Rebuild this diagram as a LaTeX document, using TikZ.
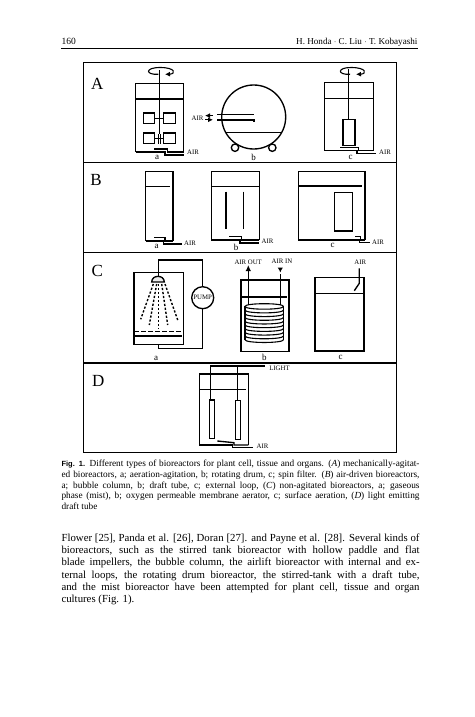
\documentclass[tikz,border=0pt]{standalone}
\usepackage{fontspec}
\setmainfont{Liberation Serif}
\setsansfont{Liberation Sans}
\usepackage{tikz}
\usetikzlibrary{arrows.meta}
\newcommand{\fullline}[1]{\makebox[358pt][s]{#1}}

\begin{document}
\begin{tikzpicture}[
  x=1pt, y=-1pt,
  line width=1.1pt,
  wall/.style={line width=1.35pt},
  frm/.style={line width=1.5pt},
  ar/.style={-{Latex[length=5pt,width=5pt]}},
  spray/.style={line width=1.4pt, dash pattern=on 2.2pt off 1.8pt},
  partlab/.style={font=\fontsize{17}{17}\selectfont, inner sep=0pt},
  lab/.style={font=\fontsize{9}{9}\selectfont, inner sep=0pt},
  tiny/.style={font=\fontsize{6.8}{6.8}\selectfont, inner sep=0pt},
  para/.style={anchor=north west, inner sep=0pt, align=left}
]
\useasboundingbox (0,0) rectangle (474,717);

% page head
\node[anchor=base west, inner sep=0pt, font=\fontsize{9.5}{9.5}\selectfont] (page) at (61,45) {160};
\node[anchor=base east, inner sep=0pt, font=\fontsize{9.1}{9.1}\selectfont] (auth) at (418,45) {H. Honda $\cdot$ C. Liu $\cdot$ T. Kobayashi};
\draw[line width=0.9pt] (61,48.3) -- (418,48.3);

% frame
\draw[frm] (83.4,62.3) rectangle (396.3,452.7);
\draw[frm] (83.4,162.7) -- (396.3,162.7);
\draw[frm] (83.4,252.7) -- (396.3,252.7);
\draw[frm] (83.4,362.8) -- (396.3,362.8);

\node[partlab] (A) at (97.3,84) {A};
\node[partlab] (B) at (96,180) {B};
\node[partlab] (C) at (97.3,270.7) {C};
\node[partlab] (D) at (98.3,380.7) {D};

% A a
\draw[wall] (135.7,152) -- (135.7,83.3) -- (183.7,83.3) -- (183.7,152);
\draw[wall] (135.7,99) -- (183.7,99);
\draw[wall] (159.3,70) -- (159.3,134);
\draw[wall] (143.7,113) rectangle (154.7,123.7);
\draw[wall] (163.7,113) rectangle (175.3,123.7);
\draw[wall] (143.7,133) rectangle (154.7,143.7);
\draw[wall] (163.7,133) rectangle (175.3,143.7);
\draw[wall] (154.7,118.3) -- (163.7,118.3);
\draw[wall] (154.7,138.3) -- (163.7,138.3);
\draw (158.2,134) -- (158.2,143.5) (160.5,134) -- (160.5,143.5);
\draw[ar] (158.3,74.3) .. controls (145,75) and (145,67.5) .. (160,67.5) .. controls (176,67.5) and (176,74) .. (165,74.3);
\draw[wall] (154.3,149) -- (167.7,149) -- (167.7,152) -- (183.7,152);
\draw[wall] (135.7,152) -- (165,152) -- (165,155) -- (183.7,155);
\node[lab] (aa) at (157,157.7) {a};
\node[tiny] (aair) at (193,152.7) {AIR};

% A b
\draw[wall] (253.7,117) circle[radius=32pt];
\draw[wall] (226,132.7) -- (282,132.7);
\draw[wall] (235,147.7) circle[radius=3.7pt];
\draw[wall] (272.3,147.7) circle[radius=3.7pt];
\draw[wall] (217,114.3) -- (254,114.3);
\draw[wall] (217,120) -- (254,120) -- (254,122);
\draw[ar] (213,115.6) -- (205,115.6);
\draw[ar] (205,119.8) -- (213,119.8);
\node[tiny] (bair) at (197.5,118.7) {AIR};
\node[lab] (ab) at (253.7,157.7) {b};

% A c
\draw[wall] (324.3,150.7) -- (324.3,82.3) -- (373.3,82.3) -- (373.3,150.7);
\draw[wall] (324.3,98.3) -- (373.3,98.3);
\draw[wall] (348.3,69.3) -- (348.3,119.3);
\draw[wall] (343,119.3) rectangle (355,145.7);
\draw[ar] (350,74.3) .. controls (337,75) and (337,67.5) .. (351,67.5) .. controls (367,67.5) and (367,74) .. (356,74.3);
\draw[wall] (340,147.7) -- (358.3,147.7) -- (358.3,150.7) -- (373.3,150.7);
\draw[wall] (324.3,150.7) -- (357,150.7) -- (357,153.7) -- (376,153.7);
\node[lab] (ac) at (350.7,157.7) {c};
\node[tiny] (cair) at (385,152.7) {AIR};

% B a
\draw[wall] (145.7,241) -- (145.7,171.7) -- (173,171.7) -- (173,241);
\draw[wall] (145,186.7) -- (170,186.7);
\draw[wall] (154.3,237.7) -- (165,237.7) -- (165,241) -- (173,241);
\draw[wall] (145.7,241) -- (163.7,241) -- (163.7,244) -- (181.7,244);
\node[lab] (ba) at (156.7,246) {a};
\node[tiny] (dair) at (190,243) {AIR};

% B b
\draw[wall] (211.3,240) -- (211.3,171.7) -- (259.3,171.7) -- (259.3,240);
\draw[wall] (211.3,186.7) -- (259.3,186.7);
\draw[wall] (226,191.7) -- (226,229);
\draw[wall] (243.7,191.7) -- (243.7,229);
\draw[wall] (229.3,236.7) -- (241.3,236.7) -- (241.3,240) -- (259.3,240);
\draw[wall] (211.3,240) -- (240,240) -- (240,243) -- (259.3,243);
\node[lab] (bb) at (236,247.3) {b};
\node[tiny] (eair) at (267.5,241.7) {AIR};

% B c
\draw[wall] (298.3,240) -- (298.3,171.7) -- (365,171.7) -- (365,240);
\draw[wall] (298.3,186) -- (361.7,186);
\draw[wall] (334.7,192.7) rectangle (352.7,231);
\draw[wall] (355,236.7) -- (360.7,236.7) -- (360.7,240) -- (365,240);
\draw[wall] (298.3,240) -- (359.3,240) -- (359.3,242.7) -- (370,242.7);
\node[lab] (bc) at (332.7,245) {c};
\node[tiny] (fair) at (378,242.7) {AIR};

% C a
\draw[wall] (134,272.3) rectangle (183.3,344.7);
\node[draw, wall, circle, minimum size=22pt, inner sep=0pt, tiny] (pump) at (202.7,297.7) {PUMP};
\draw[wall, fill=black!8] (151.7,282) .. controls (151.7,274.5) and (164.3,274.5) .. (164.3,282) -- cycle;
\coordinate (nozzle) at (158.3,276);
\coordinate (drain) at (158.3,344.7);
\draw[wall] (nozzle) -- (158.3,260) -| (pump.north);
\draw[wall] (drain) -- (158.3,348.3) -| (pump.south);
\draw[spray] (153.3,284) -- (140.7,319.3);
\draw[spray] (156.7,284) -- (149.3,325);
\draw[spray] (158.7,284) -- (158.7,328.3);
\draw[spray] (161.7,284) -- (167.7,325);
\draw[spray] (165,284) -- (178.3,321.7);
\draw[line width=1.5pt, dash pattern=on 4.5pt off 2.5pt] (134,331.7) -- (182,331.7);
\draw[wall] (134,336) -- (182,336);
\node[lab] (ca) at (156,358.3) {a};

% C b
\draw[wall] (241,280) rectangle (289,351.7);
\draw[wall] (241,297) -- (286.7,297);
\draw[wall, -{Latex[length=6pt,width=5.5pt]}] (248.3,305) -- (248.3,265);
\draw[wall] (280.3,305) -- (280.3,274);
\draw[wall, -{Latex[length=5pt,width=5.5pt]}] (280.3,267.5) -- (280.3,272.5);
\draw (245,306.4) .. controls (245,302.8) and (283.5,302.8) .. (283.5,306.4);
\foreach \yy in {0,...,9}
  \draw (245,306.4+\yy*3.7) .. controls (245,310.1+\yy*3.7) and (283.5,310.1+\yy*3.7) .. (283.5,306.4+\yy*3.7);
\draw (245,306.4) -- (245,339.7);
\draw (283.5,306.4) -- (283.5,339.7);
\node[tiny] (aout) at (248.2,262) {AIR OUT};
\node[tiny] (ain) at (282,261) {AIR IN};
\node[lab] (cb) at (264.3,357.7) {b};

% C c
\draw[wall] (315,277.7) rectangle (364,351);
\draw[wall] (315,293.3) -- (364,293.3);
\draw[wall] (359.3,268.3) -- (359.3,283.3) -- (354.3,290.7);
\node[tiny] (gair) at (360.2,262) {AIR};
\node[lab] (cc) at (340.7,357.3) {c};

% D
\draw[wall] (199.3,445) -- (199.3,374) -- (248.3,374) -- (248.3,445);
\draw[wall] (199.3,389.3) -- (246,389.3);
\draw[wall] (209.3,400) rectangle (214.3,438.3);
\draw[wall] (235.3,400.7) rectangle (240.7,439.3);
\draw[wall] (210.7,400) -- (210.7,366) -- (265,366);
\draw[wall] (237.3,400.7) -- (237.3,366);
\draw[wall] (217.3,441) -- (234,442.7) -- (234,445) -- (248.3,445);
\draw[wall] (199.3,445) -- (232.7,445) -- (232.7,447.7) -- (252.7,447.7);
\node[tiny] (hair) at (262.5,446) {AIR};
\node[tiny] (light) at (279.5,368.7) {LIGHT};

% caption
\node[para, font=\fontsize{9.3}{10.7}\selectfont] (capt) at (61,459.5) {%
\fullline{{\sffamily\bfseries\fontsize{7.5}{10.7}\selectfont Fig. 1.} Different types of bioreactors for plant cell, tissue and organs. (\textit{A}) mechanically-agitat-}\\
\fullline{ed bioreactors, a; aeration-agitation, b; rotating drum, c; spin filter. (\textit{B}) air-driven bioreactors,}\\
\fullline{a; bubble column, b; draft tube, c; external loop, (\textit{C}) non-agitated bioreactors, a; gaseous}\\
\fullline{phase (mist), b; oxygen permeable membrane aerator, c; surface aeration, (\textit{D}) light emitting}\\
draft tube};

% running text
\node[para, font=\fontsize{10.8}{12.3}\selectfont] (body) at (61,533) {%
\fullline{Flower [25], Panda et al. [26], Doran [27]. and Payne et al. [28]. Several kinds of}\\
\fullline{bioreactors, such as the stirred tank bioreactor with hollow paddle and flat}\\
\fullline{blade impellers, the bubble column, the airlift bioreactor with internal and ex-}\\
\fullline{ternal loops, the rotating drum bioreactor, the stirred-tank with a draft tube,}\\
\fullline{and the mist bioreactor have been attempted for plant cell, tissue and organ}\\
cultures (Fig. 1).};
\end{tikzpicture}
\end{document}
